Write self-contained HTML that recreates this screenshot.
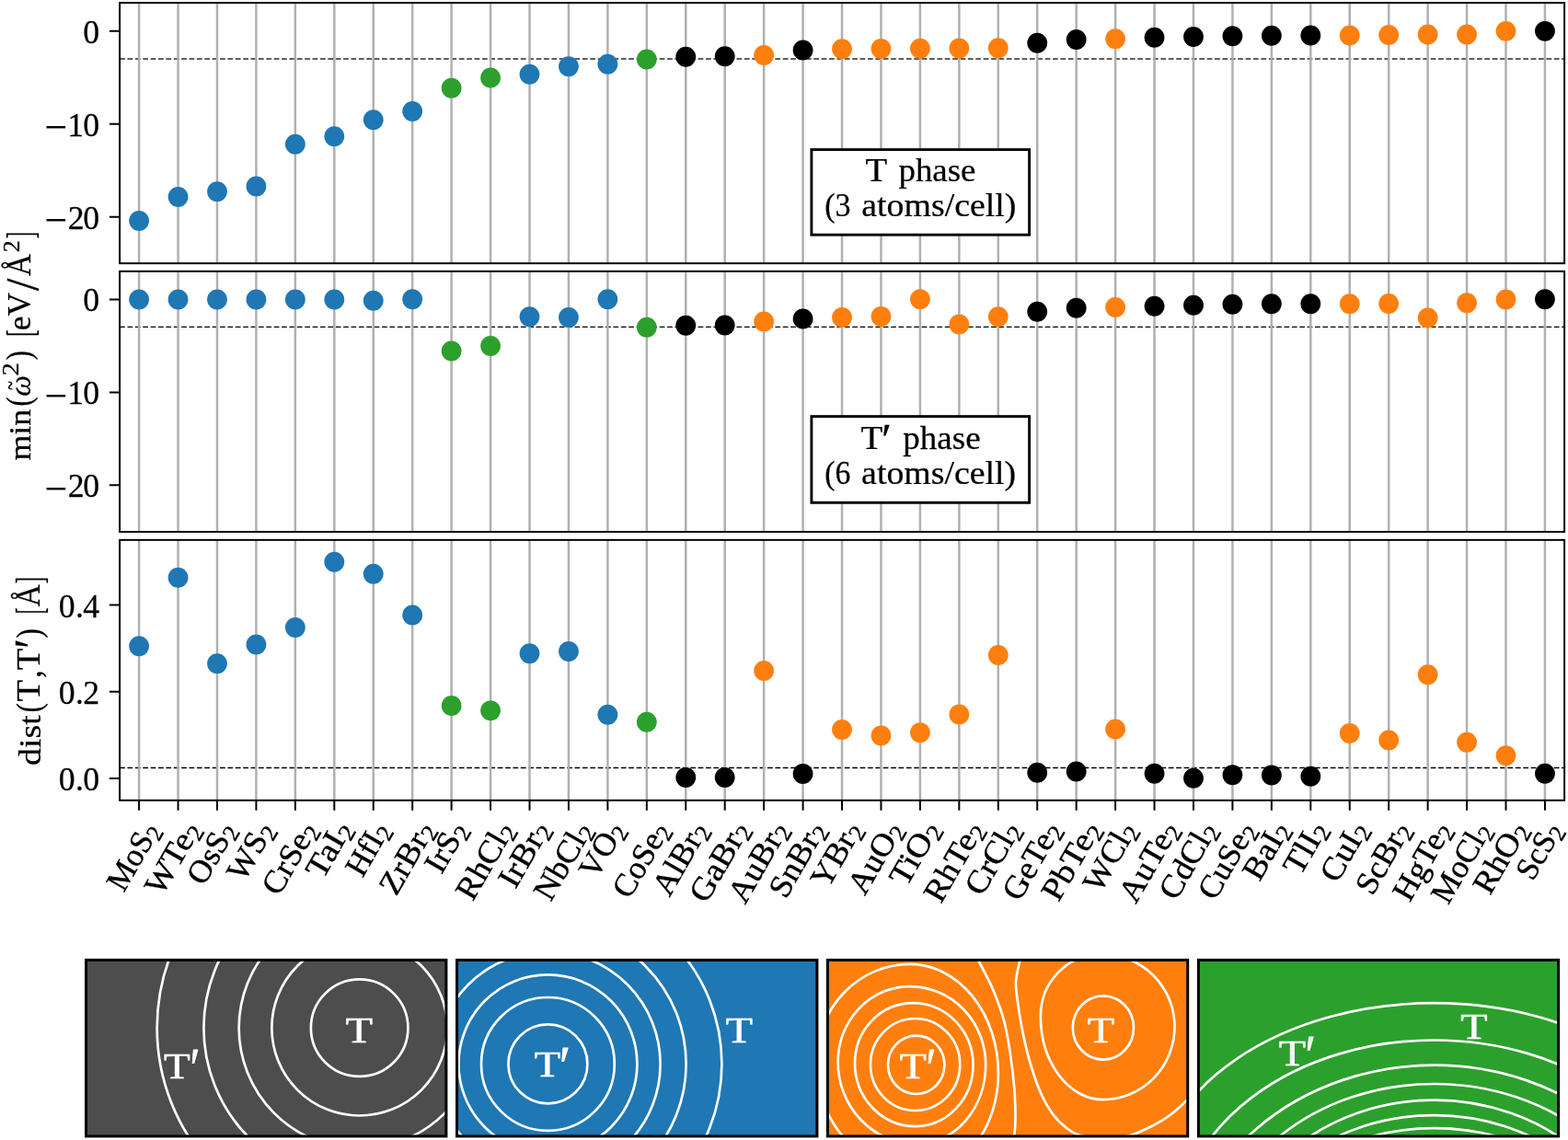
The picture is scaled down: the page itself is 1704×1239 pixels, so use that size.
<!DOCTYPE html>
<html lang="en"><head><meta charset="utf-8"><title>T and T′ phase stability</title>
<style>html,body{margin:0;padding:0;background:#fff;}body{width:1704px;height:1239px;overflow:hidden;}svg{display:block;}text{font-family:"Liberation Serif", "DejaVu Serif", serif;white-space:pre;stroke:#000;stroke-width:0.25px;stroke-linejoin:round;}.w text{stroke:#fff;stroke-width:0.5px;}#xlabels text{stroke-width:0.4px;}</style></head><body>
<svg role="img" aria-label="Phonon stability of T and T′ phases" width="1704" height="1239" viewBox="0 0 1704 1239">
<rect width="1704" height="1239" fill="#fff"/>
<g id="panel1">
<path d="M130.10 64.00H1700.10" stroke="#2a2a2a" stroke-width="1.3" stroke-dasharray="5.75 2.63" fill="none"/>
<path d="M151.10 3.03V286.20M193.54 3.03V286.20M235.98 3.03V286.20M278.42 3.03V286.20M320.86 3.03V286.20M363.30 3.03V286.20M405.74 3.03V286.20M448.18 3.03V286.20M490.62 3.03V286.20M533.06 3.03V286.20M575.50 3.03V286.20M617.94 3.03V286.20M660.38 3.03V286.20M702.82 3.03V286.20M745.26 3.03V286.20M787.70 3.03V286.20M830.14 3.03V286.20M872.58 3.03V286.20M915.02 3.03V286.20M957.46 3.03V286.20M999.90 3.03V286.20M1042.34 3.03V286.20M1084.78 3.03V286.20M1127.22 3.03V286.20M1169.66 3.03V286.20M1212.10 3.03V286.20M1254.54 3.03V286.20M1296.98 3.03V286.20M1339.42 3.03V286.20M1381.86 3.03V286.20M1424.30 3.03V286.20M1466.74 3.03V286.20M1509.18 3.03V286.20M1551.62 3.03V286.20M1594.06 3.03V286.20M1636.50 3.03V286.20M1678.94 3.03V286.20" stroke="#b0b0b0" stroke-width="2.5" fill="none"/>
<circle cx="151.10" cy="240.00" r="10.9" fill="#1f77b4"/>
<circle cx="193.54" cy="214.00" r="10.9" fill="#1f77b4"/>
<circle cx="235.98" cy="208.25" r="10.9" fill="#1f77b4"/>
<circle cx="278.42" cy="202.50" r="10.9" fill="#1f77b4"/>
<circle cx="320.86" cy="156.75" r="10.9" fill="#1f77b4"/>
<circle cx="363.30" cy="148.25" r="10.9" fill="#1f77b4"/>
<circle cx="405.74" cy="130.25" r="10.9" fill="#1f77b4"/>
<circle cx="448.18" cy="121.00" r="10.9" fill="#1f77b4"/>
<circle cx="490.62" cy="95.75" r="10.9" fill="#2ca02c"/>
<circle cx="533.06" cy="84.50" r="10.9" fill="#2ca02c"/>
<circle cx="575.50" cy="80.75" r="10.9" fill="#1f77b4"/>
<circle cx="617.94" cy="72.25" r="10.9" fill="#1f77b4"/>
<circle cx="660.38" cy="69.75" r="10.9" fill="#1f77b4"/>
<circle cx="702.82" cy="64.50" r="10.9" fill="#2ca02c"/>
<circle cx="745.26" cy="61.75" r="10.9" fill="#000000"/>
<circle cx="787.70" cy="61.25" r="10.9" fill="#000000"/>
<circle cx="830.14" cy="60.00" r="10.9" fill="#ff7f0e"/>
<circle cx="872.58" cy="54.50" r="10.9" fill="#000000"/>
<circle cx="915.02" cy="53.25" r="10.9" fill="#ff7f0e"/>
<circle cx="957.46" cy="53.00" r="10.9" fill="#ff7f0e"/>
<circle cx="999.90" cy="52.75" r="10.9" fill="#ff7f0e"/>
<circle cx="1042.34" cy="52.50" r="10.9" fill="#ff7f0e"/>
<circle cx="1084.78" cy="52.25" r="10.9" fill="#ff7f0e"/>
<circle cx="1127.22" cy="46.75" r="10.9" fill="#000000"/>
<circle cx="1169.66" cy="43.00" r="10.9" fill="#000000"/>
<circle cx="1212.10" cy="42.25" r="10.9" fill="#ff7f0e"/>
<circle cx="1254.54" cy="40.75" r="10.9" fill="#000000"/>
<circle cx="1296.98" cy="40.00" r="10.9" fill="#000000"/>
<circle cx="1339.42" cy="39.25" r="10.9" fill="#000000"/>
<circle cx="1381.86" cy="38.75" r="10.9" fill="#000000"/>
<circle cx="1424.30" cy="38.50" r="10.9" fill="#000000"/>
<circle cx="1466.74" cy="38.50" r="10.9" fill="#ff7f0e"/>
<circle cx="1509.18" cy="38.00" r="10.9" fill="#ff7f0e"/>
<circle cx="1551.62" cy="37.50" r="10.9" fill="#ff7f0e"/>
<circle cx="1594.06" cy="37.50" r="10.9" fill="#ff7f0e"/>
<circle cx="1636.50" cy="33.85" r="10.9" fill="#ff7f0e"/>
<circle cx="1678.94" cy="33.80" r="10.9" fill="#000000"/>
<path d="M130.10 33.80h-11.2M130.10 134.70h-11.2M130.10 235.70h-11.2" stroke="#000" stroke-width="2.0" fill="none"/>
<text transform="matrix(1.0205 0 0 1.0387 0 46.81)" font-size="35"><tspan x="88.45">0</tspan></text>
<text transform="matrix(1.0205 0 0 1.0387 0 147.71)" font-size="35"><tspan x="47.49" dy="5.05" font-size="42.78">−</tspan><tspan x="71.91 88.45" dy="-5.05">10</tspan></text>
<text transform="matrix(1.0205 0 0 1.0387 0 248.71)" font-size="35"><tspan x="47.49" dy="5.05" font-size="42.78">−</tspan><tspan x="72.40 88.45" dy="-5.05">20</tspan></text>
<rect x="130.10" y="3.03" width="1570.00" height="283.17" fill="none" stroke="#000" stroke-width="2.0"/>
</g>
<g id="panel2">
<path d="M130.10 355.45H1700.10" stroke="#000" stroke-width="1.3" stroke-dasharray="5.75 2.63" fill="none"/>
<path d="M151.10 294.90V578.00M193.54 294.90V578.00M235.98 294.90V578.00M278.42 294.90V578.00M320.86 294.90V578.00M363.30 294.90V578.00M405.74 294.90V578.00M448.18 294.90V578.00M490.62 294.90V578.00M533.06 294.90V578.00M575.50 294.90V578.00M617.94 294.90V578.00M660.38 294.90V578.00M702.82 294.90V578.00M745.26 294.90V578.00M787.70 294.90V578.00M830.14 294.90V578.00M872.58 294.90V578.00M915.02 294.90V578.00M957.46 294.90V578.00M999.90 294.90V578.00M1042.34 294.90V578.00M1084.78 294.90V578.00M1127.22 294.90V578.00M1169.66 294.90V578.00M1212.10 294.90V578.00M1254.54 294.90V578.00M1296.98 294.90V578.00M1339.42 294.90V578.00M1381.86 294.90V578.00M1424.30 294.90V578.00M1466.74 294.90V578.00M1509.18 294.90V578.00M1551.62 294.90V578.00M1594.06 294.90V578.00M1636.50 294.90V578.00M1678.94 294.90V578.00" stroke="#b0b0b0" stroke-width="2.5" fill="none"/>
<circle cx="151.10" cy="325.50" r="10.9" fill="#1f77b4"/>
<circle cx="193.54" cy="325.50" r="10.9" fill="#1f77b4"/>
<circle cx="235.98" cy="325.50" r="10.9" fill="#1f77b4"/>
<circle cx="278.42" cy="325.50" r="10.9" fill="#1f77b4"/>
<circle cx="320.86" cy="325.50" r="10.9" fill="#1f77b4"/>
<circle cx="363.30" cy="325.50" r="10.9" fill="#1f77b4"/>
<circle cx="405.74" cy="326.75" r="10.9" fill="#1f77b4"/>
<circle cx="448.18" cy="325.25" r="10.9" fill="#1f77b4"/>
<circle cx="490.62" cy="381.50" r="10.9" fill="#2ca02c"/>
<circle cx="533.06" cy="376.00" r="10.9" fill="#2ca02c"/>
<circle cx="575.50" cy="344.25" r="10.9" fill="#1f77b4"/>
<circle cx="617.94" cy="345.00" r="10.9" fill="#1f77b4"/>
<circle cx="660.38" cy="325.25" r="10.9" fill="#1f77b4"/>
<circle cx="702.82" cy="355.75" r="10.9" fill="#2ca02c"/>
<circle cx="745.26" cy="353.75" r="10.9" fill="#000000"/>
<circle cx="787.70" cy="353.50" r="10.9" fill="#000000"/>
<circle cx="830.14" cy="349.50" r="10.9" fill="#ff7f0e"/>
<circle cx="872.58" cy="346.50" r="10.9" fill="#000000"/>
<circle cx="915.02" cy="345.00" r="10.9" fill="#ff7f0e"/>
<circle cx="957.46" cy="344.00" r="10.9" fill="#ff7f0e"/>
<circle cx="999.90" cy="325.25" r="10.9" fill="#ff7f0e"/>
<circle cx="1042.34" cy="352.50" r="10.9" fill="#ff7f0e"/>
<circle cx="1084.78" cy="344.25" r="10.9" fill="#ff7f0e"/>
<circle cx="1127.22" cy="338.75" r="10.9" fill="#000000"/>
<circle cx="1169.66" cy="334.75" r="10.9" fill="#000000"/>
<circle cx="1212.10" cy="334.00" r="10.9" fill="#ff7f0e"/>
<circle cx="1254.54" cy="332.75" r="10.9" fill="#000000"/>
<circle cx="1296.98" cy="331.75" r="10.9" fill="#000000"/>
<circle cx="1339.42" cy="330.75" r="10.9" fill="#000000"/>
<circle cx="1381.86" cy="330.25" r="10.9" fill="#000000"/>
<circle cx="1424.30" cy="330.25" r="10.9" fill="#000000"/>
<circle cx="1466.74" cy="330.25" r="10.9" fill="#ff7f0e"/>
<circle cx="1509.18" cy="330.00" r="10.9" fill="#ff7f0e"/>
<circle cx="1551.62" cy="345.50" r="10.9" fill="#ff7f0e"/>
<circle cx="1594.06" cy="329.25" r="10.9" fill="#ff7f0e"/>
<circle cx="1636.50" cy="325.50" r="10.9" fill="#ff7f0e"/>
<circle cx="1678.94" cy="325.25" r="10.9" fill="#000000"/>
<path d="M130.10 325.45h-11.2M130.10 426.40h-11.2M130.10 527.35h-11.2" stroke="#000" stroke-width="2.0" fill="none"/>
<text transform="matrix(1.0205 0 0 1.0387 0 338.46)" font-size="35"><tspan x="88.45">0</tspan></text>
<text transform="matrix(1.0205 0 0 1.0387 0 439.41)" font-size="35"><tspan x="47.49" dy="5.05" font-size="42.78">−</tspan><tspan x="71.91 88.45" dy="-5.05">10</tspan></text>
<text transform="matrix(1.0205 0 0 1.0387 0 540.36)" font-size="35"><tspan x="47.49" dy="5.05" font-size="42.78">−</tspan><tspan x="72.40 88.45" dy="-5.05">20</tspan></text>
<rect x="130.10" y="294.90" width="1570.00" height="283.10" fill="none" stroke="#000" stroke-width="2.0"/>
</g>
<g id="panel3">
<path d="M130.10 834.50H1700.10" stroke="#000" stroke-width="1.3" stroke-dasharray="5.75 2.63" fill="none"/>
<path d="M151.10 586.85V869.85M193.54 586.85V869.85M235.98 586.85V869.85M278.42 586.85V869.85M320.86 586.85V869.85M363.30 586.85V869.85M405.74 586.85V869.85M448.18 586.85V869.85M490.62 586.85V869.85M533.06 586.85V869.85M575.50 586.85V869.85M617.94 586.85V869.85M660.38 586.85V869.85M702.82 586.85V869.85M745.26 586.85V869.85M787.70 586.85V869.85M830.14 586.85V869.85M872.58 586.85V869.85M915.02 586.85V869.85M957.46 586.85V869.85M999.90 586.85V869.85M1042.34 586.85V869.85M1084.78 586.85V869.85M1127.22 586.85V869.85M1169.66 586.85V869.85M1212.10 586.85V869.85M1254.54 586.85V869.85M1296.98 586.85V869.85M1339.42 586.85V869.85M1381.86 586.85V869.85M1424.30 586.85V869.85M1466.74 586.85V869.85M1509.18 586.85V869.85M1551.62 586.85V869.85M1594.06 586.85V869.85M1636.50 586.85V869.85M1678.94 586.85V869.85" stroke="#b0b0b0" stroke-width="2.5" fill="none"/>
<circle cx="151.10" cy="702.25" r="10.9" fill="#1f77b4"/>
<circle cx="193.54" cy="627.75" r="10.9" fill="#1f77b4"/>
<circle cx="235.98" cy="721.25" r="10.9" fill="#1f77b4"/>
<circle cx="278.42" cy="700.50" r="10.9" fill="#1f77b4"/>
<circle cx="320.86" cy="682.00" r="10.9" fill="#1f77b4"/>
<circle cx="363.30" cy="610.75" r="10.9" fill="#1f77b4"/>
<circle cx="405.74" cy="623.75" r="10.9" fill="#1f77b4"/>
<circle cx="448.18" cy="668.50" r="10.9" fill="#1f77b4"/>
<circle cx="490.62" cy="767.00" r="10.9" fill="#2ca02c"/>
<circle cx="533.06" cy="772.25" r="10.9" fill="#2ca02c"/>
<circle cx="575.50" cy="710.25" r="10.9" fill="#1f77b4"/>
<circle cx="617.94" cy="708.00" r="10.9" fill="#1f77b4"/>
<circle cx="660.38" cy="776.75" r="10.9" fill="#1f77b4"/>
<circle cx="702.82" cy="784.75" r="10.9" fill="#2ca02c"/>
<circle cx="745.26" cy="845.00" r="10.9" fill="#000000"/>
<circle cx="787.70" cy="845.00" r="10.9" fill="#000000"/>
<circle cx="830.14" cy="729.00" r="10.9" fill="#ff7f0e"/>
<circle cx="872.58" cy="841.00" r="10.9" fill="#000000"/>
<circle cx="915.02" cy="793.00" r="10.9" fill="#ff7f0e"/>
<circle cx="957.46" cy="799.50" r="10.9" fill="#ff7f0e"/>
<circle cx="999.90" cy="796.25" r="10.9" fill="#ff7f0e"/>
<circle cx="1042.34" cy="776.50" r="10.9" fill="#ff7f0e"/>
<circle cx="1084.78" cy="712.00" r="10.9" fill="#ff7f0e"/>
<circle cx="1127.22" cy="839.75" r="10.9" fill="#000000"/>
<circle cx="1169.66" cy="838.50" r="10.9" fill="#000000"/>
<circle cx="1212.10" cy="792.50" r="10.9" fill="#ff7f0e"/>
<circle cx="1254.54" cy="840.75" r="10.9" fill="#000000"/>
<circle cx="1296.98" cy="845.75" r="10.9" fill="#000000"/>
<circle cx="1339.42" cy="842.25" r="10.9" fill="#000000"/>
<circle cx="1381.86" cy="842.50" r="10.9" fill="#000000"/>
<circle cx="1424.30" cy="843.75" r="10.9" fill="#000000"/>
<circle cx="1466.74" cy="797.00" r="10.9" fill="#ff7f0e"/>
<circle cx="1509.18" cy="804.50" r="10.9" fill="#ff7f0e"/>
<circle cx="1551.62" cy="733.25" r="10.9" fill="#ff7f0e"/>
<circle cx="1594.06" cy="806.75" r="10.9" fill="#ff7f0e"/>
<circle cx="1636.50" cy="821.25" r="10.9" fill="#ff7f0e"/>
<circle cx="1678.94" cy="840.75" r="10.9" fill="#000000"/>
<path d="M130.10 657.50h-11.2M130.10 751.80h-11.2M130.10 846.10h-11.2" stroke="#000" stroke-width="2.0" fill="none"/>
<text transform="matrix(1.0205 0 0 1.0387 0 670.51)" font-size="35"><tspan x="62.49 80.29 88.48">0.4</tspan></text>
<text transform="matrix(1.0205 0 0 1.0387 0 764.81)" font-size="35"><tspan x="62.49 80.29 88.32">0.2</tspan></text>
<text transform="matrix(1.0205 0 0 1.0387 0 859.11)" font-size="35"><tspan x="62.49 80.29 88.45">0.0</tspan></text>
<rect x="130.10" y="586.85" width="1570.00" height="283.00" fill="none" stroke="#000" stroke-width="2.0"/>
</g>
<path d="M151.10 869.85v10.8M193.54 869.85v10.8M235.98 869.85v10.8M278.42 869.85v10.8M320.86 869.85v10.8M363.30 869.85v10.8M405.74 869.85v10.8M448.18 869.85v10.8M490.62 869.85v10.8M533.06 869.85v10.8M575.50 869.85v10.8M617.94 869.85v10.8M660.38 869.85v10.8M702.82 869.85v10.8M745.26 869.85v10.8M787.70 869.85v10.8M830.14 869.85v10.8M872.58 869.85v10.8M915.02 869.85v10.8M957.46 869.85v10.8M999.90 869.85v10.8M1042.34 869.85v10.8M1084.78 869.85v10.8M1127.22 869.85v10.8M1169.66 869.85v10.8M1212.10 869.85v10.8M1254.54 869.85v10.8M1296.98 869.85v10.8M1339.42 869.85v10.8M1381.86 869.85v10.8M1424.30 869.85v10.8M1466.74 869.85v10.8M1509.18 869.85v10.8M1551.62 869.85v10.8M1594.06 869.85v10.8M1636.50 869.85v10.8M1678.94 869.85v10.8" stroke="#000" stroke-width="2.0" fill="none"/>
<g id="xlabels">
<text transform="translate(134.45 970.87) rotate(-60) scale(0.9882 1)" font-size="35">MoS<tspan dy="5.12" font-size="25.48">2</tspan></text>
<text transform="translate(175.72 974.95) rotate(-60) scale(1.0664 1)" font-size="35">WTe<tspan dy="5.12" font-size="25.48">2</tspan></text>
<text transform="translate(221.42 963.64) rotate(-60) scale(1.0096 1)" font-size="35">OsS<tspan dy="5.12" font-size="25.48">2</tspan></text>
<text transform="translate(265.09 959.39) rotate(-60) scale(1.0288 1)" font-size="35">WS<tspan dy="5.12" font-size="25.48">2</tspan></text>
<text transform="translate(303.01 975.04) rotate(-60) scale(1.0298 1)" font-size="35">CrSe<tspan dy="5.12" font-size="25.48">2</tspan></text>
<text transform="translate(350.69 956.90) rotate(-60) scale(1.1089 1)" font-size="35">TaI<tspan dy="5.12" font-size="25.48">2</tspan></text>
<text transform="translate(394.00 954.64) rotate(-60) scale(0.9945 1)" font-size="35">HfI<tspan dy="5.12" font-size="25.48">2</tspan></text>
<text transform="translate(430.43 974.71) rotate(-60) scale(1.0540 1)" font-size="35">ZrBr<tspan dy="5.12" font-size="25.48">2</tspan></text>
<text transform="translate(479.64 951.26) rotate(-60) scale(1.0435 1)" font-size="35">IrS<tspan dy="5.12" font-size="25.48">2</tspan></text>
<text transform="translate(513.86 980.48) rotate(-60) scale(1.0574 1)" font-size="35">RhCl<tspan dy="5.12" font-size="25.48">2</tspan></text>
<text transform="translate(559.88 967.33) rotate(-60) scale(1.0836 1)" font-size="35">IrBr<tspan dy="5.12" font-size="25.48">2</tspan></text>
<text transform="translate(598.62 980.89) rotate(-60) scale(1.0368 1)" font-size="35">NbCl<tspan dy="5.12" font-size="25.48">2</tspan></text>
<text transform="translate(647.77 956.90) rotate(-60) scale(1.0118 1)" font-size="35">VO<tspan dy="5.12" font-size="25.48">2</tspan></text>
<text transform="translate(684.05 978.23) rotate(-60) scale(0.9990 1)" font-size="35">CoSe<tspan dy="5.12" font-size="25.48">2</tspan></text>
<text transform="translate(727.46 975.64) rotate(-60) scale(1.0366 1)" font-size="35">AlBr<tspan dy="5.12" font-size="25.48">2</tspan></text>
<text transform="translate(767.54 983.04) rotate(-60) scale(1.0728 1)" font-size="35">GaBr<tspan dy="5.12" font-size="25.48">2</tspan></text>
<text transform="translate(809.80 983.66) rotate(-60) scale(1.0549 1)" font-size="35">AuBr<tspan dy="5.12" font-size="25.48">2</tspan></text>
<text transform="translate(853.90 977.93) rotate(-60) scale(1.0481 1)" font-size="35">SnBr<tspan dy="5.12" font-size="25.48">2</tspan></text>
<text transform="translate(899.42 967.24) rotate(-60) scale(1.0466 1)" font-size="35">YBr<tspan dy="5.12" font-size="25.48">2</tspan></text>
<text transform="translate(939.87 974.15) rotate(-60) scale(1.0443 1)" font-size="35">AuO<tspan dy="5.12" font-size="25.48">2</tspan></text>
<text transform="translate(984.92 965.11) rotate(-60) scale(1.0994 1)" font-size="35">TiO<tspan dy="5.12" font-size="25.48">2</tspan></text>
<text transform="translate(1022.43 982.93) rotate(-60) scale(1.0753 1)" font-size="35">RhTe<tspan dy="5.12" font-size="25.48">2</tspan></text>
<text transform="translate(1067.10 975.22) rotate(-60) scale(1.0590 1)" font-size="35">CrCl<tspan dy="5.12" font-size="25.48">2</tspan></text>
<text transform="translate(1107.68 980.88) rotate(-60) scale(1.0473 1)" font-size="35">GeTe<tspan dy="5.12" font-size="25.48">2</tspan></text>
<text transform="translate(1150.22 981.31) rotate(-60) scale(1.1075 1)" font-size="35">PbTe<tspan dy="5.12" font-size="25.48">2</tspan></text>
<text transform="translate(1195.39 971.86) rotate(-60) scale(1.0317 1)" font-size="35">WCl<tspan dy="5.12" font-size="25.48">2</tspan></text>
<text transform="translate(1234.35 983.16) rotate(-60) scale(1.0546 1)" font-size="35">AuTe<tspan dy="5.12" font-size="25.48">2</tspan></text>
<text transform="translate(1277.90 980.07) rotate(-60) scale(1.0509 1)" font-size="35">CdCl<tspan dy="5.12" font-size="25.48">2</tspan></text>
<text transform="translate(1320.17 979.88) rotate(-60) scale(1.0242 1)" font-size="35">CuSe<tspan dy="5.12" font-size="25.48">2</tspan></text>
<text transform="translate(1368.66 958.94) rotate(-60) scale(1.0587 1)" font-size="35">BaI<tspan dy="5.12" font-size="25.48">2</tspan></text>
<text transform="translate(1413.03 952.99) rotate(-60) scale(1.0854 1)" font-size="35">TlI<tspan dy="5.12" font-size="25.48">2</tspan></text>
<text transform="translate(1452.94 961.01) rotate(-60) scale(1.0646 1)" font-size="35">CuI<tspan dy="5.12" font-size="25.48">2</tspan></text>
<text transform="translate(1491.45 974.62) rotate(-60) scale(1.0230 1)" font-size="35">ScBr<tspan dy="5.12" font-size="25.48">2</tspan></text>
<text transform="translate(1531.91 981.50) rotate(-60) scale(1.0299 1)" font-size="35">HgTe<tspan dy="5.12" font-size="25.48">2</tspan></text>
<text transform="translate(1573.79 984.17) rotate(-60) scale(1.0089 1)" font-size="35">MoCl<tspan dy="5.12" font-size="25.48">2</tspan></text>
<text transform="translate(1619.19 973.93) rotate(-60) scale(1.0675 1)" font-size="35">RhO<tspan dy="5.12" font-size="25.48">2</tspan></text>
<text transform="translate(1665.85 958.56) rotate(-60) scale(0.9742 1)" font-size="35">ScS<tspan dy="5.12" font-size="25.48">2</tspan></text>
</g>
<rect x="881.9" y="162.6" width="236.70" height="92.60" fill="#fff" stroke="#000" stroke-width="2.9"/>
<text transform="matrix(1.1103 0 0 1.0000 940.44 197.05)" font-size="35">T</text>
<text transform="matrix(1.0551 0 0 1.0000 976.44 197.05)" font-size="35">phase</text>
<text transform="matrix(0.9723 0 0 1.0000 896.16 234.80)" font-size="35">(3</text>
<text transform="matrix(1.0815 0 0 1.0000 936.31 234.80)" font-size="35">atoms/cell)</text>
<rect x="881.9" y="452.6" width="236.70" height="93.70" fill="#fff" stroke="#000" stroke-width="2.9"/>
<text transform="matrix(1.1103 0 0 1.0000 935.44 488.10)" font-size="35">T</text>
<text transform="matrix(1.4270 0 0 1.3569 957.93 494.28)" font-size="35">′</text>
<text transform="matrix(1.0576 0 0 1.0000 981.34 488.10)" font-size="35">phase</text>
<text transform="matrix(0.9634 0 0 1.0000 896.17 525.90)" font-size="35">(6</text>
<text transform="matrix(1.0815 0 0 1.0000 936.11 525.90)" font-size="35">atoms/cell)</text>
<g transform="translate(32.8 500.4) rotate(-90)">
<text transform="matrix(1.0253 0 0 0.9906 -0.13 -0.12)" font-size="35">min</text>
<text transform="matrix(0.8621 0 0 1.0752 59.01 0.25)" font-size="35">(</text>
<text transform="matrix(0.9148 0 0 0.9286 69.56 0.06)" font-size="35" font-style="italic">ω</text>
<text transform="matrix(0.5330 0 0 0.7667 76.36 -12.82)" font-size="35">~</text>
<text transform="matrix(1.1553 0 0 0.9702 92.00 -12.62)" font-size="25">2</text>
<text transform="matrix(0.8621 0 0 1.0752 109.14 0.25)" font-size="35">)</text>
<text transform="matrix(0.6331 0 0 1.1769 134.64 2.73)" font-size="35">[</text>
<text transform="matrix(1.0074 0 0 1.0253 141.15 -0.17)" font-size="35">eV</text>
<text transform="matrix(1.3627 0 0 1.4536 184.37 7.71)" font-size="35">/</text>
<text transform="matrix(0.9495 0 0 1.0743 200.42 -0.13)" font-size="35">Å</text>
<text transform="matrix(1.0388 0 0 1.0000 226.21 -12.12)" font-size="25">2</text>
<text transform="matrix(0.6331 0 0 1.1769 241.08 2.73)" font-size="35">]</text>
</g>
<g transform="translate(43.5 831.2) rotate(-90)">
<text transform="matrix(1.0840 0 0 0.9683 -0.73 0.04)" font-size="35">dist</text>
<text transform="matrix(0.8513 0 0 1.0752 57.03 0.25)" font-size="35">(</text>
<text transform="matrix(1.1054 0 0 1.0097 68.64 -0.13)" font-size="35">T</text>
<text transform="matrix(0.9636 0 0 1.1357 94.34 0.64)" font-size="35">,</text>
<text transform="matrix(1.1054 0 0 1.0097 102.84 -0.13)" font-size="35">T</text>
<text transform="matrix(1.4047 0 0 1.5457 126.37 9.43)" font-size="35">′</text>
<text transform="matrix(0.8944 0 0 1.0752 137.71 0.25)" font-size="35">)</text>
<text transform="matrix(0.5835 0 0 1.1769 163.86 2.73)" font-size="35">[</text>
<text transform="matrix(0.9455 0 0 1.0708 171.92 -0.13)" font-size="35">Å</text>
<text transform="matrix(0.6207 0 0 1.1769 196.90 2.73)" font-size="35">]</text>
</g>
<defs>
<clipPath id="cb0"><rect x="93.5" y="1043.4" width="391.40" height="191.50"/></clipPath>
<clipPath id="cb1"><rect x="496.55" y="1043.4" width="391.35" height="191.50"/></clipPath>
<clipPath id="cb2"><rect x="899.4" y="1043.4" width="391.30" height="191.50"/></clipPath>
<clipPath id="cb3"><rect x="1302.4" y="1043.4" width="391.20" height="191.50"/></clipPath>
</defs>
<g id="inset1" class="w">
<rect x="93.5" y="1043.4" width="391.40" height="191.50" fill="#4d4d4d"/>
<g clip-path="url(#cb0)" fill="none" stroke="#fff" stroke-width="2.7">
<ellipse cx="390.65" cy="1117.20" rx="52.75" ry="52.75"/>
<ellipse cx="390.65" cy="1117.20" rx="95.30" ry="95.30"/>
<ellipse cx="390.65" cy="1117.20" rx="131.00" ry="131.00"/>
<ellipse cx="390.65" cy="1117.20" rx="169.25" ry="169.25"/>
<ellipse cx="390.65" cy="1117.20" rx="220.00" ry="220.00"/>
</g>
<text transform="matrix(1.2087 0 0 1.0095 375.58 1132.87)" font-size="40" fill="#fff">T</text>
<text transform="matrix(1.1787 0 0 1.0132 178.10 1172.17)" font-size="40" fill="#fff">T</text>
<text transform="matrix(1.5979 0 0 2.0548 206.65 1180.63)" font-size="30" fill="#fff">′</text>
<rect x="93.5" y="1043.4" width="391.40" height="191.50" fill="none" stroke="#000" stroke-width="3.0"/>
</g>
<g id="inset2" class="w">
<rect x="496.55" y="1043.4" width="391.35" height="191.50" fill="#1f77b4"/>
<g clip-path="url(#cb1)" fill="none" stroke="#fff" stroke-width="2.7">
<ellipse cx="595.40" cy="1156.40" rx="43.00" ry="43.00"/>
<ellipse cx="595.40" cy="1156.40" rx="72.40" ry="72.40"/>
<ellipse cx="595.40" cy="1156.40" rx="97.00" ry="97.00"/>
<ellipse cx="595.40" cy="1156.40" rx="122.20" ry="122.20"/>
<ellipse cx="595.40" cy="1156.40" rx="150.20" ry="150.20"/>
<ellipse cx="595.40" cy="1156.40" rx="189.00" ry="189.00"/>
</g>
<text transform="matrix(1.2087 0 0 1.0095 788.58 1132.87)" font-size="40" fill="#fff">T</text>
<text transform="matrix(1.1787 0 0 0.9905 580.60 1169.88)" font-size="40" fill="#fff">T</text>
<text transform="matrix(1.8041 0 0 2.0548 608.07 1178.63)" font-size="30" fill="#fff">′</text>
<rect x="496.55" y="1043.4" width="391.35" height="191.50" fill="none" stroke="#000" stroke-width="3.0"/>
</g>
<g id="inset3" class="w">
<rect x="899.4" y="1043.4" width="391.30" height="191.50" fill="#ff7f0e"/>
<g clip-path="url(#cb2)" fill="none" stroke="#fff" stroke-width="2.7">
<ellipse cx="995.70" cy="1157.30" rx="30.70" ry="31.70"/>
<ellipse cx="994.60" cy="1157.00" rx="48.60" ry="50.00"/>
<path d="M929.00 1155.50A63.00 65.30 0 0 1 992.00 1090.20A65.50 67.30 0 0 1 1057.50 1157.50A63.00 66.60 0 0 1 994.50 1224.10A65.50 68.60 0 0 1 929.00 1155.50Z"/>
<path d="M910.60 1154.00A78.20 81.90 0 0 1 988.80 1072.10A82.40 84.90 0 0 1 1071.20 1157.00A75.00 86.50 0 0 1 996.20 1243.50A85.60 89.50 0 0 1 910.60 1154.00Z"/>
<path d="M887.00 1155.00A101.80 107.15 0 0 1 988.80 1047.85A96.10 118.95 0 0 1 1084.90 1166.80A84.90 108.20 0 0 1 1000.00 1275.00A113.00 120.00 0 0 1 887.00 1155.00Z"/>
<path d="M1055.00 1028.00C1056.47 1030.82 1059.73 1036.87 1063.80 1044.90C1067.87 1052.93 1074.87 1065.52 1079.40 1076.20C1083.93 1086.88 1088.00 1098.03 1091.00 1109.00C1094.00 1119.97 1095.52 1129.67 1097.40 1142.00C1099.28 1154.33 1101.28 1170.67 1102.30 1183.00C1103.32 1195.33 1103.50 1207.58 1103.50 1216.00C1103.50 1224.42 1102.88 1227.83 1102.30 1233.50C1101.72 1239.17 1100.38 1247.25 1100.00 1250.00"/>
<path d="M1113.00 1030.00C1112.18 1032.48 1109.60 1038.58 1108.10 1044.90C1106.60 1051.22 1104.27 1059.93 1104.00 1067.90C1103.73 1075.87 1105.13 1083.08 1106.50 1092.70C1107.87 1102.32 1109.87 1114.63 1112.20 1125.60C1114.53 1136.57 1117.33 1148.07 1120.50 1158.50C1123.67 1168.93 1127.22 1179.42 1131.20 1188.20C1135.18 1196.98 1139.73 1204.88 1144.40 1211.20C1149.07 1217.52 1154.53 1222.38 1159.20 1226.10C1163.87 1229.82 1165.60 1231.43 1172.40 1233.50C1179.20 1235.57 1190.67 1238.42 1200.00 1238.50C1209.33 1238.58 1219.28 1236.68 1228.40 1234.00C1237.52 1231.32 1247.30 1226.23 1254.70 1222.40C1262.10 1218.57 1267.17 1215.23 1272.80 1211.00C1278.43 1206.77 1283.97 1201.25 1288.50 1197.00C1293.03 1192.75 1298.08 1187.42 1300.00 1185.50"/>
<ellipse cx="1198.90" cy="1117.00" rx="33.10" ry="34.60"/>
<path d="M1130.85 1104.20A66.25 67.30 0 0 1 1197.10 1036.90A79.40 78.80 0 0 1 1276.50 1115.70A77.80 79.40 0 0 1 1198.70 1195.10A67.85 90.90 0 0 1 1130.85 1104.20Z"/>
</g>
<text transform="matrix(1.2002 0 0 1.0095 1181.79 1132.87)" font-size="40" fill="#fff">T</text>
<text transform="matrix(1.2002 0 0 1.0019 977.59 1171.87)" font-size="40" fill="#fff">T</text>
<text transform="matrix(1.5979 0 0 2.0548 1006.65 1180.63)" font-size="30" fill="#fff">′</text>
<rect x="899.4" y="1043.4" width="391.30" height="191.50" fill="none" stroke="#000" stroke-width="3.0"/>
</g>
<g id="inset4" class="w">
<rect x="1302.4" y="1043.4" width="391.20" height="191.50" fill="#2ca02c"/>
<g clip-path="url(#cb3)" fill="none" stroke="#fff" stroke-width="2.7">
<ellipse cx="1558.50" cy="1298.20" rx="304.00" ry="208.00"/>
<ellipse cx="1558.50" cy="1342.50" rx="280.00" ry="212.00"/>
<ellipse cx="1558.50" cy="1391.70" rx="272.00" ry="234.00"/>
<ellipse cx="1558.50" cy="1382.00" rx="242.00" ry="204.00"/>
<ellipse cx="1558.50" cy="1393.60" rx="225.00" ry="198.00"/>
<ellipse cx="1558.50" cy="1385.10" rx="210.00" ry="173.00"/>
<ellipse cx="1558.50" cy="1366.10" rx="195.00" ry="140.00"/>
</g>
<text transform="matrix(1.2002 0 0 1.0132 1587.29 1129.17)" font-size="40" fill="#fff">T</text>
<text transform="matrix(1.2002 0 0 1.0095 1389.79 1157.87)" font-size="40" fill="#fff">T</text>
<text transform="matrix(1.6753 0 0 2.0548 1418.75 1166.93)" font-size="30" fill="#fff">′</text>
<rect x="1302.4" y="1043.4" width="391.20" height="191.50" fill="none" stroke="#000" stroke-width="3.0"/>
</g>
</svg></body></html>
